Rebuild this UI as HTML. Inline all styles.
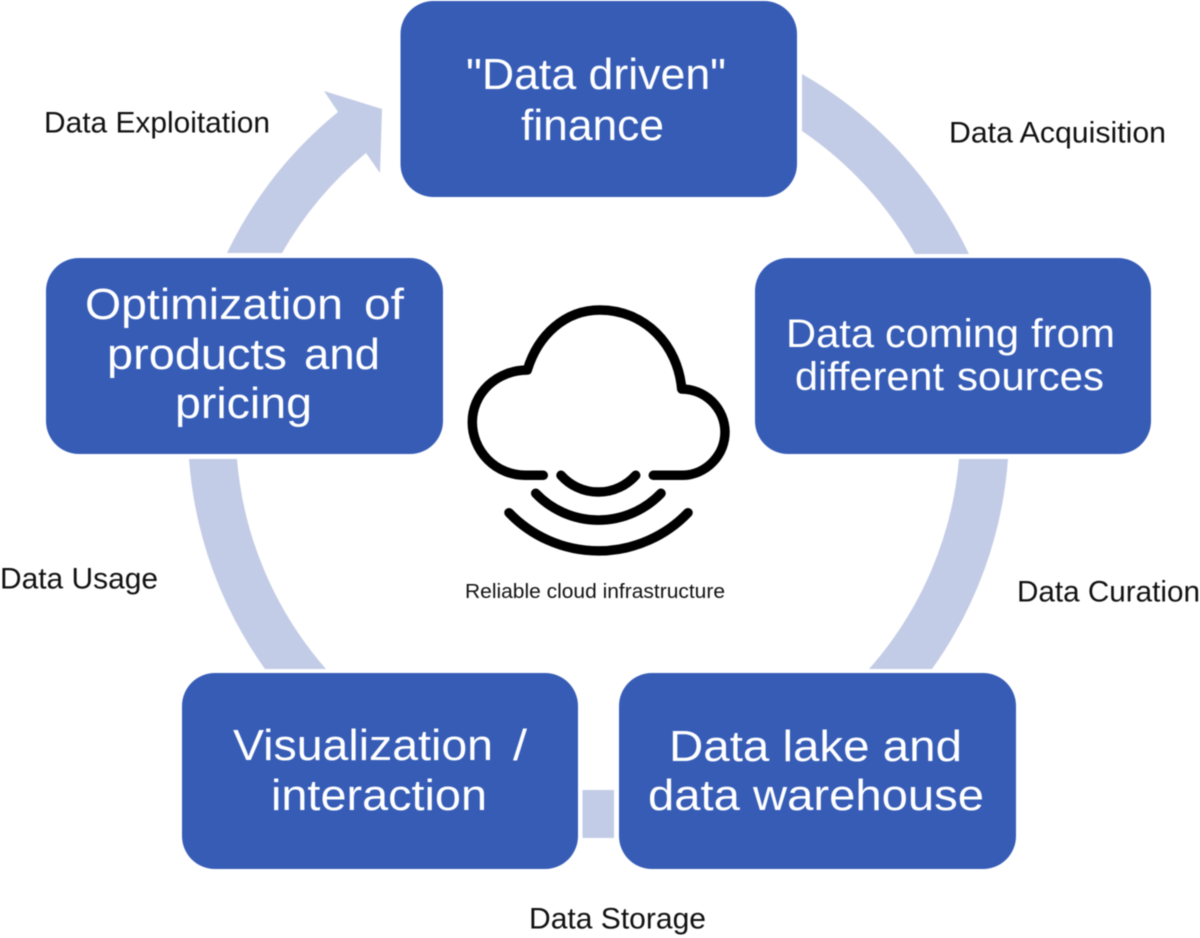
<!DOCTYPE html>
<html lang="en">
<head>
<meta charset="utf-8">
<title>Data driven finance cycle</title>
<style>
html,body{margin:0;padding:0;background:#fff;width:1200px;height:938px;overflow:hidden}
svg{display:block;filter:blur(.5px)}
text{font-family:"Liberation Sans",Arial,sans-serif}
.b{fill:#fff;font-size:44px}
.m{fill:#fff;font-size:40px}
.l{fill:#111;font-size:29.5px}
.s{fill:#111;font-size:20px}
.box{fill:#365cb6}
.arc{fill:#c3cce6}
</style>
</head>
<body>
<svg width="1200" height="938" viewBox="0 0 1200 938" xmlns="http://www.w3.org/2000/svg">
<path class="arc" d="M802 74A412 412 0 0 1 969 254L915 254A363 363 0 0 0 802 131Z"/>
<path class="arc" d="M1008 459A412 412 0 0 1 932 669L869 669A363 363 0 0 0 959 459Z"/>
<rect class="arc" x="582.5" y="790" width="31.5" height="48"/>
<path class="arc" d="M189 459L237 459A363 363 0 0 0 326 669L265 669A412 412 0 0 1 189 459Z"/>
<path class="arc" d="M227 253A412 412 0 0 1 338 112L324 91L382 109L380 173L366 153A363 363 0 0 0 282 253Z"/>

<rect class="box" x="400.5" y="1" width="396.5" height="196" rx="33"/>
<rect class="box" x="755" y="258" width="396" height="196" rx="33"/>
<rect class="box" x="619" y="673" width="397" height="196" rx="33"/>
<rect class="box" x="182" y="673" width="396" height="196" rx="33"/>
<rect class="box" x="46" y="258" width="397" height="196" rx="33"/>

<text class="b" x="466" y="89" textLength="260" lengthAdjust="spacingAndGlyphs">"Data driven"</text>
<text class="b" x="521" y="140" textLength="143" lengthAdjust="spacingAndGlyphs">finance</text>

<text class="m" x="786" y="347" textLength="88" lengthAdjust="spacingAndGlyphs">Data</text>
<text class="m" x="885" y="347" textLength="134" lengthAdjust="spacingAndGlyphs">coming</text>
<text class="m" x="1031" y="347" textLength="84" lengthAdjust="spacingAndGlyphs">from</text>
<text class="m" x="795" y="390" textLength="149" lengthAdjust="spacingAndGlyphs">different</text>
<text class="m" x="957" y="390" textLength="147" lengthAdjust="spacingAndGlyphs">sources</text>

<text class="b" x="669" y="761" textLength="293" lengthAdjust="spacingAndGlyphs">Data lake and</text>
<text class="b" x="648" y="810" textLength="336" lengthAdjust="spacingAndGlyphs">data warehouse</text>

<text class="b" x="233" y="760" textLength="260" lengthAdjust="spacingAndGlyphs">Visualization</text>
<text class="b" x="513" y="760" textLength="14" lengthAdjust="spacingAndGlyphs">/</text>
<text class="b" x="271" y="810" textLength="216" lengthAdjust="spacingAndGlyphs">interaction</text>

<text class="b" x="85" y="319" textLength="258" lengthAdjust="spacingAndGlyphs">Optimization</text>
<text class="b" x="364" y="319" textLength="40" lengthAdjust="spacingAndGlyphs">of</text>
<text class="b" x="107" y="369" textLength="180" lengthAdjust="spacingAndGlyphs">products</text>
<text class="b" x="304" y="369" textLength="76" lengthAdjust="spacingAndGlyphs">and</text>
<text class="b" x="175" y="418" textLength="137" lengthAdjust="spacingAndGlyphs">pricing</text>

<text class="l" x="44" y="132.6" textLength="226" lengthAdjust="spacingAndGlyphs">Data Exploitation</text>
<text class="l" x="949" y="142.6" textLength="217" lengthAdjust="spacingAndGlyphs">Data Acquisition</text>
<text class="l" x="1017" y="601.6" textLength="183" lengthAdjust="spacingAndGlyphs">Data Curation</text>
<text class="l" x="0" y="588.6" textLength="158" lengthAdjust="spacingAndGlyphs">Data Usage</text>
<text class="l" x="529" y="928.6" textLength="177" lengthAdjust="spacingAndGlyphs">Data Storage</text>
<text class="s" x="465" y="598" textLength="260" lengthAdjust="spacingAndGlyphs">Reliable cloud infrastructure</text>

<g fill="none" stroke="#000" stroke-width="9.5" stroke-linecap="round" stroke-linejoin="round">
<path d="M543.3 475.3L525 475.3A53 53 0 0 1 472.3 422A55 52 0 0 1 527.3 370C538 335 565 310 600 310C645 310 678 345 681.7 389A43.5 43.5 0 0 1 725 431.7A43.5 43.5 0 0 1 683.3 475.3L653.3 475.3"/>
<path d="M561 475.3A50 50 0 0 0 635.7 475.3"/>
<path d="M535.7 493.3A86.7 86.7 0 0 0 661 493.3"/>
<path d="M509 512.7A124 124 0 0 0 688 512.7"/>
</g>
</svg>
</body>
</html>
